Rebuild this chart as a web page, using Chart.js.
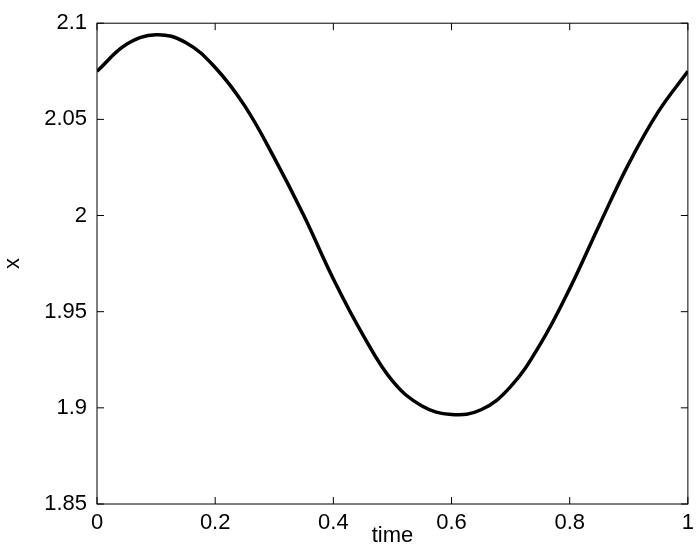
<!DOCTYPE html>
<html>
<head>
<meta charset="utf-8">
<script src="https://cdn.jsdelivr.net/npm/chart.js@4"></script>
<style>
  html, body { margin: 0; padding: 0; background: #fff; }
  #wrap { width: 700px; height: 549px; }
</style>
</head>
<body>
<div id="wrap"><canvas id="chart"></canvas></div>
<script>
const times = [0, 0.05, 0.1, 0.15, 0.2, 0.25, 0.3, 0.35, 0.4, 0.45, 0.5, 0.55, 0.6, 0.65, 0.7, 0.75, 0.8, 0.85, 0.9, 0.95, 1.0];
const xValues = [2.075, 2.089, 2.094, 2.090, 2.077, 2.057, 2.030, 2.000, 1.967, 1.938, 1.914, 1.901, 1.8966, 1.899, 1.911, 1.933, 1.962, 1.995, 2.027, 2.054, 2.075];
const xTicks = [0, 0.2, 0.4, 0.6, 0.8, 1];
const yTicks = [1.85, 1.9, 1.95, 2, 2.05, 2.1];

// box around the plot area plus inward tick marks, matlab style
const boxPlugin = {
  id: "box",
  afterDraw(chart) {
    const { ctx, chartArea: a, scales } = chart;
    ctx.save();
    ctx.strokeStyle = "#000";
    ctx.lineWidth = 1;
    ctx.strokeRect(a.left, a.top, a.right - a.left, a.bottom - a.top);
    const len = 7;
    xTicks.forEach(v => {
      const px = scales.x.getPixelForValue(v);
      ctx.beginPath();
      ctx.moveTo(px, a.bottom); ctx.lineTo(px, a.bottom - len);
      ctx.moveTo(px, a.top); ctx.lineTo(px, a.top + len);
      ctx.stroke();
    });
    yTicks.forEach(v => {
      const py = scales.y.getPixelForValue(v);
      ctx.beginPath();
      ctx.moveTo(a.left, py); ctx.lineTo(a.left + len, py);
      ctx.moveTo(a.right, py); ctx.lineTo(a.right - len, py);
      ctx.stroke();
    });
    ctx.restore();
  }
};

new Chart(document.getElementById("chart"), {
  type: "line",
  data: {
    datasets: [{
      data: times.map((t, i) => ({ x: t, y: xValues[i] })),
      borderColor: "#000",
      borderWidth: 3.5,
      pointRadius: 0,
      fill: false,
      tension: 0.4
    }]
  },
  options: {
    responsive: true,
    maintainAspectRatio: false,
    animation: false,
    layout: { padding: { top: -4, right: 4, left: 0, bottom: 0 } },
    plugins: { legend: { display: false }, tooltip: { enabled: false } },
    scales: {
      x: {
        type: "linear", min: 0, max: 1,
        afterBuildTicks: s => { s.ticks = xTicks.map(v => ({ value: v })); },
        afterFit: s => { s.height = 45; },
        grid: { display: false, drawTicks: false },
        border: { display: false },
        ticks: { color: "#000", font: { family: "Liberation Sans", size: 22 }, padding: 6, callback: v => String(v) },
        title: { display: true, text: "time", color: "#000", font: { family: "Liberation Sans", size: 22 }, padding: { top: -6, bottom: 0 } }
      },
      y: {
        type: "linear", min: 1.85, max: 2.1,
        afterBuildTicks: s => { s.ticks = yTicks.map(v => ({ value: v })); },
        afterFit: s => { s.width = 97; },
        grid: { display: false, drawTicks: false },
        border: { display: false },
        ticks: { color: "#000", font: { family: "Liberation Sans", size: 22 }, padding: 10, callback: v => String(v) },
        title: { display: true, text: "x", color: "#000", font: { family: "Liberation Sans", size: 22 }, padding: { top: 0, bottom: 4 } }
      }
    }
  },
  plugins: [boxPlugin]
});
</script>
</body>
</html>
